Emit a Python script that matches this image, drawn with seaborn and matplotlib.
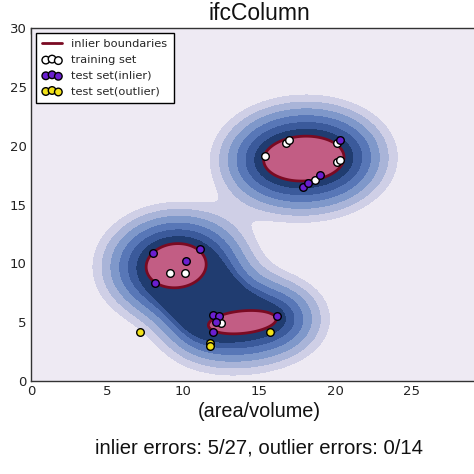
import numpy as np
import seaborn as sns
import matplotlib
matplotlib.use('Agg')
import matplotlib.pyplot as plt
from matplotlib.lines import Line2D

# points
train_x = [16.8, 17.0, 15.4, 20.1, 20.1, 20.3, 18.7, 9.15, 10.1, 12.5]
train_y = [20.2, 20.5, 19.1, 20.2, 18.6, 18.8, 17.1, 9.2, 9.2, 4.95]
inlier_x = [20.3, 17.9, 18.2, 19.0, 8.0, 11.1, 10.2, 8.16, 11.95, 12.4, 12.2, 12.0, 16.2]
inlier_y = [20.5, 16.5, 16.8, 17.5, 10.85, 11.2, 10.2, 8.3, 5.6, 5.5, 5.0, 4.2, 5.55]
outlier_x = [7.2, 15.7, 11.8, 11.8]
outlier_y = [4.2, 4.2, 3.25, 2.97]

# learned inlier regions (ellipses): centre, half axes, tilt (deg)
region_cx = [17.95, 9.55, 13.9]
region_cy = [18.9, 9.8, 5.0]
region_a = [2.65, 2.0, 2.25]
region_b = [1.9, 1.85, 0.95]
region_tilt = [5, 25, 8]

# distance from the frontier where each shaded band ends
band_edges = [0.58, 1.16, 1.74, 2.32, 2.9, 3.5]
kernel_width = 2.0

sns.set_theme(style='white')
plt.rcParams['font.family'] = ['DejaVu Sans']

# build a decision-like score on a grid
xx, yy = np.meshgrid(np.linspace(0, 30, 301), np.linspace(0, 30, 301))
t = np.linspace(0, 2 * np.pi, 361)
score = np.zeros_like(xx)
radius = np.full_like(xx, np.inf)
for cx, cy, a, b, tilt in zip(region_cx, region_cy, region_a, region_b, region_tilt):
    th = np.deg2rad(tilt)
    dx, dy = xx - cx, yy - cy
    u = dx * np.cos(th) + dy * np.sin(th)
    v = -dx * np.sin(th) + dy * np.cos(th)
    r = np.sqrt((u / a) ** 2 + (v / b) ** 2)
    radius = np.minimum(radius, r)
    bx = cx + a * np.cos(t) * np.cos(th) - b * np.sin(t) * np.sin(th)
    by = cy + a * np.cos(t) * np.sin(th) + b * np.sin(t) * np.cos(th)
    d = np.full_like(xx, np.inf)
    for px, py in zip(bx, by):
        d = np.minimum(d, np.hypot(xx - px, yy - py))
    d[r <= 1] = 0
    score += np.exp(-d ** 2 / (2 * kernel_width ** 2))

levels = np.sort(np.exp(-np.array(band_edges) ** 2 / (2 * kernel_width ** 2)))
levels = np.concatenate([[0], levels, [score.max() + 1]])
band_colors = ['#eeeaf3', '#cfcfe6', '#a9b4d8', '#7f98ca', '#5877b7', '#3b5a9b', '#203c70']

fig = plt.figure(figsize=(4.74, 4.74), dpi=100)
ax = fig.add_axes([31 / 474, 93 / 474, 456 / 474, 353 / 474])

ax.contourf(xx, yy, score, levels=levels, colors=band_colors)
ax.contourf(xx, yy, radius, levels=[0, 1], colors='#c25d84')
ax.contour(xx, yy, radius, levels=[1], colors='#7a0a22', linewidths=2)

sns.scatterplot(x=train_x, y=train_y, color='white', edgecolor='black', s=30,
                linewidth=1, ax=ax, label='training set', zorder=3)
sns.scatterplot(x=inlier_x, y=inlier_y, color='#6a1fd0', edgecolor='black', s=30,
                linewidth=1, ax=ax, label='test set(inlier)', zorder=3)
sns.scatterplot(x=outlier_x, y=outlier_y, color='#f2e21a', edgecolor='black', s=30,
                linewidth=1, ax=ax, label='test set(outlier)', zorder=3)

handles, labels = ax.get_legend_handles_labels()
handles = [Line2D([], [], color='#7a0a22', lw=2)] + handles
labels = ['inlier boundaries'] + labels
leg = ax.legend(handles, labels, loc='upper left', scatterpoints=3, fontsize=8.2,
                frameon=True, fancybox=False, framealpha=1, edgecolor='black',
                borderpad=0.6, labelspacing=0.5, handlelength=1.7, handletextpad=0.8,
                borderaxespad=0.4)
leg.get_frame().set_linewidth(1)

ax.set_xlim(0, 30)
ax.set_ylim(0, 30)
ax.set_xticks(range(0, 30, 5))
ax.set_yticks(range(0, 31, 5))
ax.tick_params(direction='in', top=True, right=True, length=4, width=1,
               labelsize=9.5, labelcolor='#222222', color='#333333', pad=3)
for sp in ax.spines.values():
    sp.set_color('#333333')
    sp.set_linewidth(1)

ax.set_title('ifcColumn', fontsize=16.5, family='Liberation Sans', pad=6, color='#111111')
ax.set_xlabel('(area/volume)', fontsize=14.3, family='Liberation Sans', labelpad=3, color='#111111')
ax.text(0.5, -0.19, 'inlier errors: 5/27, outlier errors: 0/14', transform=ax.transAxes,
        ha='center', va='center', fontsize=14.6, family='Liberation Sans', color='#111111')

fig.savefig('out.png', dpi=100)
